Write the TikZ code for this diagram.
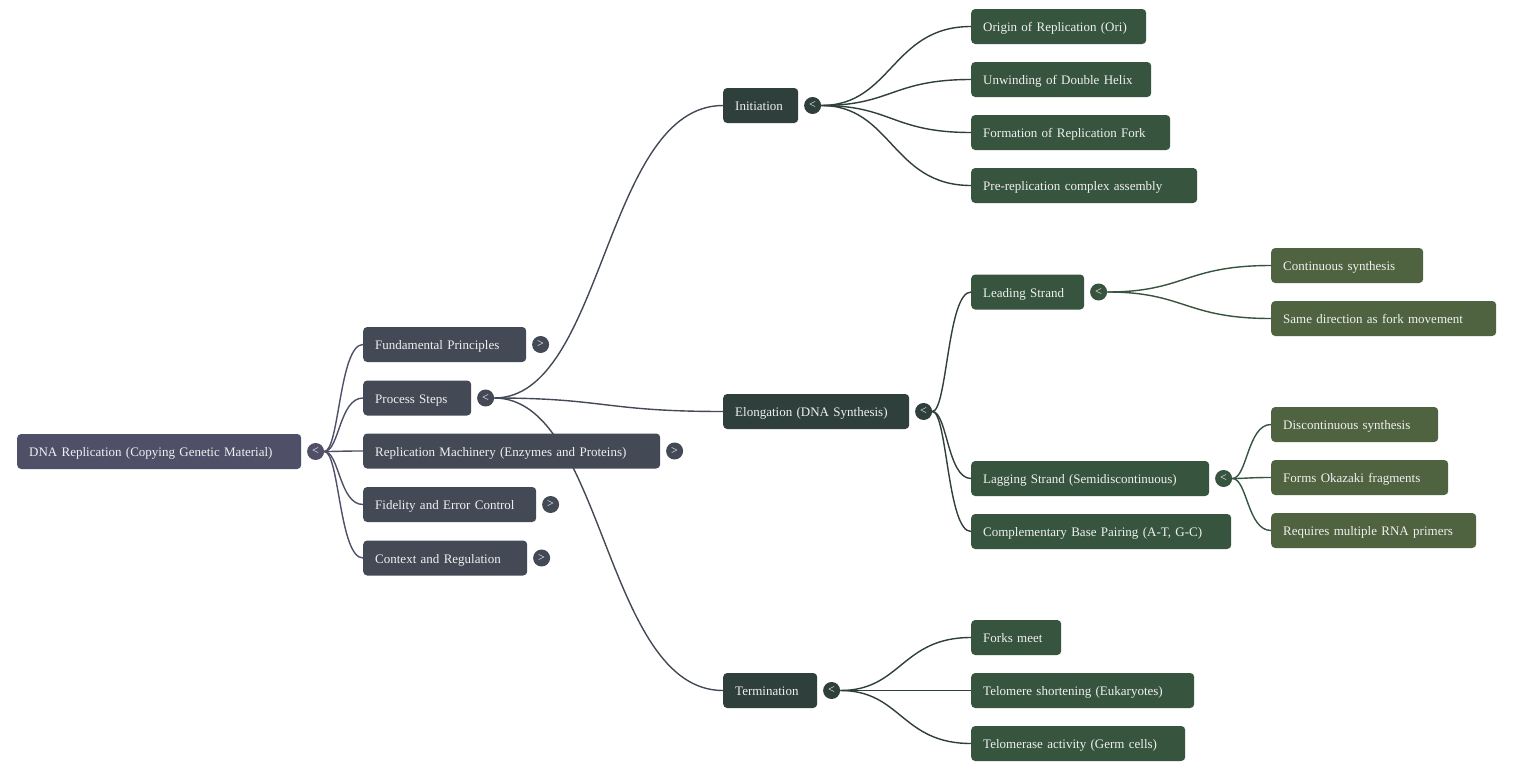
\documentclass[tikz,border=0pt]{standalone}
\usepackage{fontspec}
\setmainfont{Liberation Serif}
\usetikzlibrary{positioning,backgrounds,calc}
\definecolor{rootc}{HTML}{4F5068}
\definecolor{firstc}{HTML}{434A55}
\definecolor{stepc}{HTML}{2F3F3B}
\definecolor{subc}{HTML}{37543F}
\definecolor{leafc}{HTML}{4F6340}
\tikzset{
  topic/.style={fill=#1, rounded corners=4pt, minimum height=35pt, inner xsep=12pt,
    text height=12pt, text depth=1.5pt, anchor=west, align=left,
    text=white!94!black, font=\fontsize{13}{15}\selectfont},
  knob/.style={circle, fill=#1, minimum size=17pt, inner sep=0pt, text=white,
    font=\fontsize{12}{12}\selectfont},
  link/.style={draw=#1, line width=1.4pt},
  branch/.style={to path={let \p1=(\tikztostart), \p2=(\tikztotarget) in
    .. controls ({(\x1+\x2)/2},\y1) and ({(\x1+\x2)/2},\y2) .. (\tikztotarget)}}
}
\begin{document}
\begin{tikzpicture}[x=1pt, y=-1pt]
    \useasboundingbox (0,0) rectangle (1536,771);
    \node[topic=rootc, text width=260pt] (dna) at (17,451.5) {DNA Replication (Copying Genetic Material)};
    \node[knob=rootc, right=5.5pt of dna] (dnak) {<};
    \node[topic=firstc, text width=139pt] (fund) at (363,344.5) {Fundamental Principles};
    \node[knob=firstc, right=5.5pt of fund] (fundk) {>};
    \node[topic=firstc, text width=84pt] (proc) at (363,398) {Process Steps};
    \node[knob=firstc, right=5.5pt of proc] (prock) {<};
    \node[topic=firstc, text width=273pt] (mach) at (363,451) {Replication Machinery (Enzymes and Proteins)};
    \node[knob=firstc, right=5.5pt of mach] (machk) {>};
    \node[topic=firstc, text width=149pt] (fid) at (363,504.5) {Fidelity and Error Control};
    \node[knob=firstc, right=5.5pt of fid] (fidk) {>};
    \node[topic=firstc, text width=140pt] (ctx) at (363,558) {Context and Regulation};
    \node[knob=firstc, right=5.5pt of ctx] (ctxk) {>};
    \node[topic=stepc, text width=51pt] (init) at (723,105.5) {Initiation};
    \node[knob=stepc, right=5.5pt of init] (initk) {<};
    \node[topic=stepc, text width=162pt] (elong) at (723,411.5) {Elongation (DNA Synthesis)};
    \node[knob=stepc, right=5.5pt of elong] (elongk) {<};
    \node[topic=stepc, text width=70pt] (term) at (723,690.5) {Termination};
    \node[knob=stepc, right=5.5pt of term] (termk) {<};
    \node[topic=subc, text width=151pt] (ori) at (971,26.5) {Origin of Replication (Ori)};
    \node[topic=subc, text width=156pt] (unw) at (971,79.5) {Unwinding of Double Helix};
    \node[topic=subc, text width=175pt] (fork) at (971,132.5) {Formation of Replication Fork};
    \node[topic=subc, text width=202pt] (pre) at (971,185.5) {Pre-replication complex assembly};
    \node[topic=subc, text width=89pt] (lead) at (971,292) {Leading Strand};
    \node[knob=subc, right=5.5pt of lead] (leadk) {<};
    \node[topic=subc, text width=214pt] (lag) at (971,478.5) {Lagging Strand (Semidiscontinuous)};
    \node[knob=subc, right=5.5pt of lag] (lagk) {<};
    \node[topic=subc, text width=236pt] (pair) at (971,531.5) {Complementary Base Pairing (A-T, G-C)};
    \node[topic=leafc, text width=128pt] (cont) at (1271,265.5) {Continuous synthesis};
    \node[topic=leafc, text width=201pt] (same) at (1271,318.5) {Same direction as fork movement};
    \node[topic=leafc, text width=143pt] (disc) at (1271,424.5) {Discontinuous synthesis};
    \node[topic=leafc, text width=153pt] (oka) at (1271,477.5) {Forms Okazaki fragments};
    \node[topic=leafc, text width=181pt] (rna) at (1271,530.5) {Requires multiple RNA primers};
    \node[topic=subc, text width=66pt] (meet) at (971,637.5) {Forks meet};
    \node[topic=subc, text width=199pt] (telo) at (971,690.5) {Telomere shortening (Eukaryotes)};
    \node[topic=subc, text width=190pt] (tase) at (971,743.5) {Telomerase activity (Germ cells)};
    \begin{scope}[on background layer]
        \fill[white] (0,0) rectangle (1536,771);
        \foreach \c in {fund,proc,mach,fid,ctx}
            \draw[link=rootc] (dnak) to[branch] (\c.west);
        \foreach \c in {init,elong,term}
            \draw[link=firstc] (prock) to[branch] (\c.west);
        \foreach \c in {ori,unw,fork,pre}
            \draw[link=stepc] (initk) to[branch] (\c.west);
        \foreach \c in {lead,lag,pair}
            \draw[link=stepc] (elongk) to[branch] (\c.west);
        \foreach \c in {meet,telo,tase}
            \draw[link=stepc] (termk) to[branch] (\c.west);
        \foreach \c in {cont,same}
            \draw[link=subc] (leadk) to[branch] (\c.west);
        \foreach \c in {disc,oka,rna}
            \draw[link=subc] (lagk) to[branch] (\c.west);
    \end{scope}
\end{tikzpicture}
\end{document}
